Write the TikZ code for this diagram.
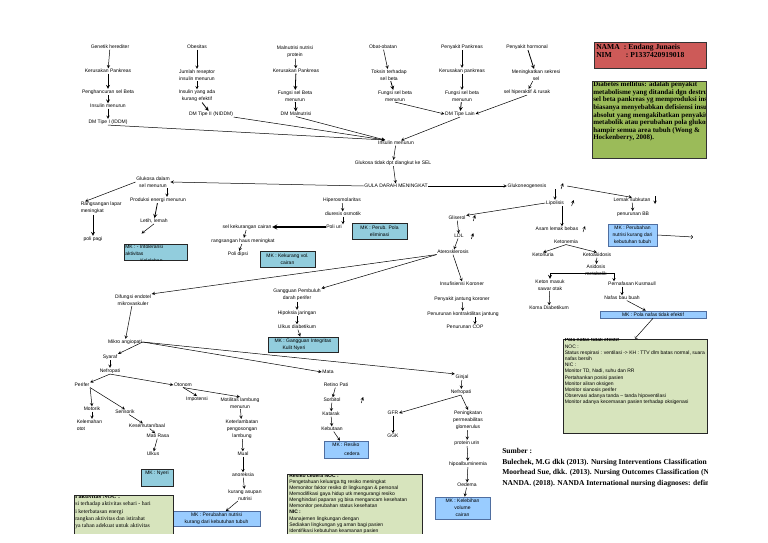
\documentclass[tikz,border=0pt]{standalone}
\usepackage{fontspec}
\setmainfont{Liberation Sans}
\newfontfamily\timesfont{Liberation Serif}
\definecolor{mkcyan}{RGB}{146,205,221}
\definecolor{mkblue}{RGB}{153,204,255}
\definecolor{mkline}{RGB}{79,110,160}
\definecolor{nocgreen}{RGB}{215,228,189}
\definecolor{defgreen}{RGB}{155,187,89}
\definecolor{namered}{RGB}{205,90,88}
\tikzset{
  lbl/.style={font=\fontsize{5}{7}\selectfont,align=center,inner sep=0.5pt},
  mkc/.style={draw=black!85,line width=0.9pt,fill=mkcyan,inner sep=0pt},
  mkb/.style={draw=mkline,line width=0.6pt,fill=mkblue,inner sep=0pt},
  boxtext/.style={anchor=north west,align=left,inner sep=0pt},
  up/.style={-stealth,line width=0.5pt},
}
\begin{document}
\begin{tikzpicture}[x=1pt,y=-1pt,every node/.style={lbl},line width=0.5pt]
\useasboundingbox (0,0) rectangle (768,543);

% penyebab
\node (gen) at (110,47) {Genetik herediter};
\node (obe) at (197,47) {Obesitas};
\node (mal) at (295,52) {Malnutrisi nutrisi\\protein};
\node (obt) at (383,47) {Obat-obatan};
\node (ppk) at (462,47) {Penyakit Pankreas};
\node (phr) at (527,47) {Penyakit hormonal};
\node (kp1) at (108,71) {Kerusakan Pankreas};
\node (jrs) at (197,75) {Jumlah reseptor\\insulin menurun};
\node (kp2) at (296,71) {Kerusakan Pankreas};
\node (tks) at (389,75) {Toksin terhadap\\sel beta};
\node (kp3) at (462,71) {Kerusakan pankreas};
\node (msk) at (536,75) {Meningkatkan sekresi\\sel};
\node (phb) at (108,92) {Penghancuran sel Beta};
\node (iye) at (197,96) {Insulin yang ada\\kurang efektif};
\node (fsa) at (295,96) {Fungsi sel Beta\\menurun};
\node (fsb) at (395,96) {Fungsi sel beta\\menurun};
\node (fsc) at (462,96) {Fungsi sel beta\\menurun};
\node (shr) at (527,92) {sel hiperaktif \& rusak};
\node (inm) at (108,106) {Insulin menurun};
\node (dma) at (108,122) {DM Tipe I (IDDM)};
\node (dmb) at (211,114) {DM Tipe II (NIDDM)};
\node (dmm) at (296,114) {DM Malnutrisi};
\node (dml) at (460,114) {DM Tipe Lain};
\node (ins) at (396,143) {Insulin menurun};
\coordinate (insin) at (385,140);
\node (gtd) at (393,163) {Glukosa tidak dpt diangkut ke SEL};
\node (gdm) at (396,186) {GULA DARAH MENINGKAT};

\path[-stealth]
  (gen) edge (kp1) (kp1) edge[thick] (phb) (phb) edge[thick] (inm) (inm) edge (dma)
  (obe) edge (jrs) (jrs) edge (iye) (iye) edge[thick] (dmb)
  (mal) edge (kp2) (kp2) edge[thick] (fsa) (fsa) edge[thick] (dmm)
  (obt) edge (tks) (tks) edge[thick] (fsb)
  (ppk) edge (kp3) (kp3) edge (fsc) (fsc) edge[thick] (dml)
  (phr) edge[thick] (msk) (msk) edge (shr)
  (fsb.south) edge (dml.west) (shr.south) edge (dml.east)
  (dma.south) edge (insin) (dmb.south east) edge (insin) (dmm.south) edge (insin)
  (dml.south) edge ([xshift=5pt]ins.north)
  (ins) edge (gtd) (gtd) edge (gdm);

% kiri: glukosa dalam sel
\node (gds) at (153,182) {Glukosa dalam\\sel menurun};
\node[anchor=west,align=left] (rlm) at (80,208) {Rangsangan lapar\\meningkat};
\node (pol) at (93,239) {poli pagi};
\node (pem) at (158,200) {Produksi energi menurun};
\node (ltl) at (154,221) {Letih, lemah};
\node[mkc,minimum width=63pt,minimum height=16pt] (mki) at (155.5,252) {};
\begin{scope}
  \clip (mki.south west) rectangle (mki.north east);
  \node[boxtext] at ([xshift=1.5pt,yshift=-1.5pt]mki.north west) {MK : - Intoleransi\\aktivitas\\\hspace{15pt}Kelelahan};
\end{scope}

% hiperosmolaritas
\node (hyp) at (342,200) {Hiperosmolaritas};
\node (diu) at (343,214) {diuresis osmotik};
\node (pou) at (334,227) {Poli uri};
\node[mkc,minimum width=55pt,minimum height=16pt] (mkp) at (379.5,231) {MK : Perub. Pola\\eliminasi};
\node (skc) at (247,227) {sel kekurangan cairan};
\node (rhm) at (243,241) {rangsangan haus meningkat};
\node (pdi) at (238,254) {Poli dipsi};
\node[mkc,minimum width=55pt,minimum height=16pt] (mkk) at (287.5,259) {MK : Kekurang vol.\\cairan};

\path[-stealth]
  (gdm.west) edge (gds.east)
  (gds.west) edge ([xshift=5pt]rlm.north west) (rlm.south -| pol) edge[thick] (pol)
  ([xshift=14pt]gds.south) edge ([xshift=9pt]pem.north) (pem) edge[thick] (ltl)
  (ltl.south) edge ([xshift=-14pt,yshift=10pt]mki.north)
  (hyp) edge (diu) (diu.south) edge (diu.south |- pou.north)
  (pou.west) edge[line width=1.2pt] (skc.east) (skc) edge (rhm) (rhm) edge (pdi);

% kanan: glukoneogenesis
\node (glk) at (527,186) {Glukoneogenesis};
\node (lip) at (555,203) {Lipolisis};
\node (lsk) at (632,200) {Lemak subkutan};
\node (pbb) at (633,214) {penurunan BB};
\node[mkb,minimum width=49pt,minimum height=22pt] (mkn) at (632.5,235) {MK : Perubahan\\nutrisi kurang dari\\kebutuhan tubuh};
\coordinate (mkend) at (693,237);
\node (gli) at (457,218) {Gliserol};
\node (alb) at (557,229) {Asam lemak bebas};
\node (ldl) at (459,236) {LDL};
\node (ktn) at (566,242) {Ketonemia};
\node (ate) at (453,252) {Aterosklerosis};
\node (ktu) at (543,255) {Ketonuria};
\node (kas) at (597,255) {Ketoasidosis};
\node (asm) at (596,270) {Asidosis\\metabolik};
\coordinate (asl) at (550,273);
\coordinate (asr) at (614,273);
\node (kmo) at (550,285) {Keton masuk\\sawar otak};
\node (pku) at (632,284) {Pernafasan Kusmaull};
\node (kdb) at (549,308) {Koma Diabetikum};
\node (nbb) at (622,298) {Nafas bau buah};
\node[mkb,minimum width=106pt,minimum height=7pt] (mkpn) at (653,314.5) {MK : Pola nafas tidak efektif};
\node[draw=black!85,line width=1pt,fill=nocgreen,minimum width=144pt,minimum height=94pt,inner sep=0pt] (nocn) at (635,386) {};
\begin{scope}
  \clip (nocn.south west) rectangle (nocn.north east);
  \node[boxtext,font=\fontsize{5}{6.2}\selectfont] at ([xshift=2pt,yshift=0.5pt]nocn.north west) {\textbf{Pola nafas tidak efektif}\\NOC :\\Status respirasi : ventilasi -> KH : TTV dlm batas normal, suara\\nafas bersih\\NIC :\\Monitor TD, Nadi, suhu dan RR\\Pertahankan posisi pasien\\Monitor aliran oksigen\\Monitor sianosis perifer\\Observasi adanya tanda -- tanda hipoventilasi\\Monitor adanya kecemasan pasien terhadap oksigenasi};
\end{scope}
\node (iko) at (462,284) {Insufisiensi Koroner};
\node (pjk) at (462,299) {Penyakit jantung koroner};
\node (pkj) at (463,314) {Penurunan kontraktilitas jantung};
\node (pcop) at (465,327) {Penurunan COP};

\path[-stealth]
  (gdm.east) edge (glk.west)
  ([xshift=28pt]glk.south) edge (lip.north)
  ([xshift=20pt]glk.east) edge (lsk.north) (lsk) edge (pbb)
  (mkn.east) edge[-to] (mkend)
  (lip.west) edge (gli.north east) ([xshift=7pt]lip.south) edge ([xshift=5pt]alb.north)
  (gli) edge (ldl) (ldl) edge (ate)
  (ktn.south) edge (ktu.north) (ktn.south) edge (kas.north) (kas) edge (asm)
  (asl) edge[line width=0.8pt] (kmo.north) (asr) edge (asr |- pku.north)
  (kmo) edge (kdb) (pku.south -| nbb) edge (nbb) (nbb) edge (mkpn)
  (mkpn.south) edge[-to] (nocn.north)
  (ate.south) edge (iko.north) (pjk) edge (pkj)
  ([xshift=12pt]pkj.south) edge ([xshift=10pt]pcop.north);
\draw[line width=1pt] (asl) -- (asr);
\draw[up] ([xshift=14pt]glk.east) ++(0,3) -- ++(2,-6);
\draw[up] ([xshift=7pt]lip.east) ++(0,3) -- ++(2,-6);
\draw[up] ([xshift=7pt]gli.east) ++(0,3) -- ++(2,-6);
\draw[up] ([xshift=7pt]ldl.east) ++(0,3) -- ++(2,-6);
\draw[up] ([xshift=4pt]alb.east) ++(0,3) -- ++(2,-6);
\draw[up] ([xshift=4pt]lsk.east) ++(0,-4) -- ++(0,8);

% komplikasi
\node (def) at (133,300) {Difungsi endotel\\mikrovaskuler};
\node (gpd) at (297,295) {Gangguan Pembuluh\\darah perifer};
\node (hpk) at (297,313) {Hipoksia jaringan};
\node (ulk) at (297,327) {Ulkus diabetikum};
\node[mkc,minimum width=70pt,minimum height=15pt,align=left] (mkg) at (303,344.5) {MK : Gangguan Integritas\\\hspace{8pt}Kulit Nyeri};
\node (mag) at (125,342) {Mikro angiopati};
\node (syr) at (110,357) {Syaraf};
\node (mata) at (328,372) {Mata};
\node (gin) at (462,377) {Ginjal};
\node (nfa) at (110,371) {Nefropati};
\node (per) at (82,385) {Perifer};
\node (oto) at (183,385) {Otonom};
\node (ret) at (336,385) {Retino Pati};
\node (nfb) at (461,392) {Nefropati};
\node (sor) at (332,400) {Sorbitol};
\node (imp) at (197,399) {Impotensi};
\node (mtl) at (240,403) {Motilitas lambung\\menurun};
\node (mot) at (92,409) {Motorik};
\node (sen) at (125,412) {Sensorik};
\node (gfr) at (393,413) {GFR};
\node (pen) at (468,420) {Peningkatan\\permeabilitas\\glomerulus};
\node (kat) at (331,414) {Katarak};
\node[anchor=west,align=left] (klo) at (76,425) {Kelemahan\\otot};
\node (ksb) at (147,426) {Kesemutan/baal};
\node (ktl) at (242,429) {Keterlambatan\\pengosongan\\lambung};
\node (keb) at (332,429) {Kebutaan};
\node (mrs) at (158,436) {Mati Rasa};
\node (ggk) at (393,436) {GGK};
\node (pru) at (467,443) {protein urin};
\node[mkb,minimum width=44pt,minimum height=17pt,align=left] (mkr) at (346,449.5) {MK : Resiko\\[2pt]\hspace{12pt}cedera};
\node (ulks) at (153,454) {Ulkus};
\node (mual) at (243,454) {Mual};
\node (hpa) at (468,464) {hipoalbuminemia};
\node[mkc,minimum width=32pt,minimum height=17pt] (mkny) at (157,477.5) {};
\node[anchor=north] at ([yshift=-1.5pt]mkny.north) {MK : Nyeri};
\node (ano) at (243,475) {anoreksia};
\node (oed) at (467,485) {Oedema};
\node (kasp) at (245,495) {kurang asupan\\nutrisi};
\node[mkb,minimum width=55pt,minimum height=22pt] (mkv) at (462.5,508) {MK : Kelebihan\\volume\\cairan};
\node[mkb,minimum width=87pt,minimum height=15pt] (mkt) at (216.5,519) {MK : Perubahan nutrisi\\kurang dari kebutuhan tubuh};

\path[-stealth]
  (ate.south west) edge (def.north east) (ate.south west) edge (gpd.north east)
  (gpd) edge (hpk) (hpk) edge (ulk) (ulk) edge (mkg)
  (def) edge (mag)
  (mag.east) edge (syr.north east) (mag.east) edge (mata.west) (mag.east) edge (gin.north west)
  (syr) edge (nfa)
  (nfa.south) edge (per.north east) (nfa.south) edge (oto.west)
  (per.south east) edge (mot.north) (per.south east) edge (sen.north)
  (mot) edge (klo.north -| mot) (sen) edge (ksb) (ksb) edge (mrs) (mrs) edge (ulks)
  (oto.south) edge (imp.north) (oto.south) edge (mtl.north)
  (mtl) edge (ktl) (ktl) edge (mual) (mual) edge (ano) (ano) edge (kasp) (kasp) edge (mkt)
  (ret) edge (sor) (sor) edge (kat) (kat) edge (keb) (keb) edge (mkr)
  (gin) edge (nfb)
  (nfb.south) edge (gfr.east) (nfb.south) edge (pen.north)
  (gfr) edge (ggk) (pen) edge (pru) (pru) edge (hpa) (hpa) edge (oed) (oed) edge (mkv);
\draw[up] ([xshift=20pt]sor.east) ++(0,3) -- ++(2,-6);

% NOC / NIC
\fill[nocgreen] (287,474) rectangle (422,534);
\begin{scope}
  \clip (287,474) rectangle (422,534);
  \node[boxtext,font=\fontsize{5}{6.1}\selectfont] at (289,473.5) {\textbf{Resiko cedera NOC :}\\Pengetahuan keluarga ttg resiko meningkat\\Memonitor faktor resiko dr lingkungan \& personal\\Memodifikasi gaya hidup utk mengurangi resiko\\Menghindari paparan yg bisa mengancam kesehatan\\Memonitor perubahan status kesehatan\\\textbf{NIC :}\\Manajemen lingkungan dengan\\Sediakan lingkungan yg aman bagi pasien\\Identifikasi kebutuhan keamanan pasien};
\end{scope}
\draw[line width=1pt,black!85] (287,534) -- (287,474) -- (422,474) -- (422,534);

\fill[nocgreen] (74,495) rectangle (173,534);
\begin{scope}
  \clip (74,495) rectangle (173,534);
  \node[boxtext,font=\timesfont\fontsize{5.8}{7.3}\selectfont] at (75,494) {{\bfseries\fontsize{6.2}{7.3}\selectfont i aktivitas NOC :}\\si terhadap aktivitas sehari - hari\\i keterbatasan energi\\rangkan aktivitas dan istirahat\\ya tahan adekuat untuk aktivitas};
\end{scope}
\draw[line width=1pt,black!85] (74,534) -- (74,495) -- (173,495) -- (173,534);

% identitas dan definisi
\fill[namered] (594,43) rectangle (706,69);
\draw[line width=1pt,black!80] (594,43) rectangle (706,69);
\node[boxtext,font=\timesfont\bfseries\fontsize{7.6}{8.5}\selectfont] at (596,43.5) {NAMA\hspace{4pt}: Endang Junaeis\\NIM\hspace{14pt}: P1337420919018};
\fill[defgreen] (592,81) rectangle (706,158);
\begin{scope}
  \clip (592,81) rectangle (706,158);
  \node[boxtext,font=\timesfont\bfseries\fontsize{7}{7.6}\selectfont] at (593,81.5) {Diabetes mellitus: adalah penyakit\\metabolisme yang ditandai dgn destruksi\\sel beta pankreas yg memproduksi insulin,\\biasanya menyebabkan defisiensi insulin\\absolut yang mengakibatkan penyakit\\metabolik atau perubahan pola glukosa\\hampir semua area tubuh (Wong \&\\Hockenberry, 2008).};
\end{scope}
\draw[line width=1pt,black!80] (592,81) rectangle (706,158);

% sumber
\begin{scope}
  \clip (498,440) rectangle (707,495);
  \node[boxtext,font=\timesfont\bfseries\fontsize{7.5}{10.6}\selectfont] at (502,448) {Sumber :\\Bulechek, M.G dkk (2013). Nursing Interventions Classification (NIC)\\Moorhead Sue, dkk. (2013). Nursing Outcomes Classification (NOC)\\NANDA. (2018). NANDA International nursing diagnoses: definitions};
\end{scope}
\end{tikzpicture}
\end{document}
